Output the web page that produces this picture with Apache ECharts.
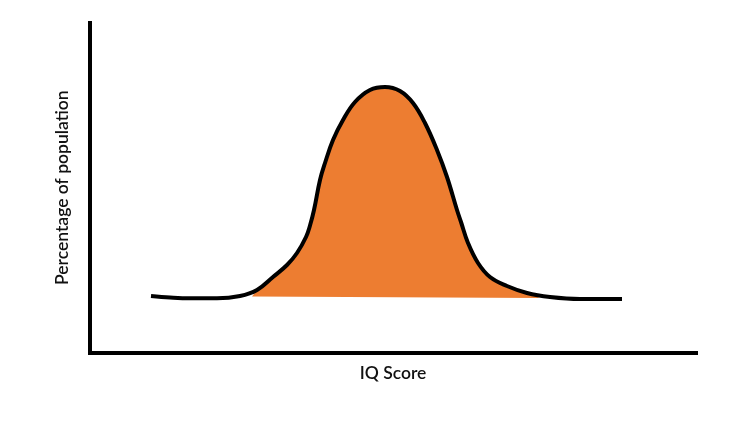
<!DOCTYPE html>
<html>
<head>
<meta charset="utf-8">
<style>html,body{margin:0;padding:0;background:#fff}#c{width:755px;height:425px}</style>
<script src="https://cdn.jsdelivr.net/npm/echarts@6/dist/echarts.min.js"></script>
</head>
<body>
<div id="c"></div>
<script>
const xAxisName = 'IQ Score';
const yAxisName = 'Percentage of population';
const curveX = [61,80,100,127,150,167,183,197,207,216,220,224,230,235,243,253,265,280,295,310,323,335,347,357,367,371,378,388,400,417,437,460,490,532];
const curveY = [56.5,55,54.2,54.2,56.5,62.5,75.5,87.5,99.5,115.5,127,142.5,172.5,189.5,212.5,232.5,250.5,262.5,265.5,261.5,249.5,229.5,202.5,175.5,142.5,130.5,109.5,89.5,75.5,66.5,59.5,55.5,53.5,53.5];
const fillX = curveX.slice(5, 31);
const fillY = curveY.slice(5, 31);
const baseX = [450,162];
const baseY = [54.5,56];

const chart = echarts.init(document.getElementById('c'), null, {renderer:'canvas'});
const pts = curveX.map((x,i)=>[x,curveY[i]]);
const poly = fillX.map((x,i)=>[x,fillY[i]]).concat(baseX.map((x,i)=>[x,baseY[i]]));
const axisLine = {show:true,onZero:false,lineStyle:{color:'#000',width:4,cap:'square'}};
const textStyle = {fontFamily:'Lato',fontSize:17.5,fontWeight:600,color:'#111'};
chart.setOption({
  animation:false,
  backgroundColor:'#fff',
  grid:{left:90,right:59,top:23,bottom:72.5,containLabel:false},
  xAxis:{type:'value',min:0,max:606,axisLine,axisTick:{show:false},axisLabel:{show:false},splitLine:{show:false},
    name:xAxisName,nameLocation:'middle',nameGap:12,nameTextStyle:textStyle},
  yAxis:{type:'value',min:0,max:329.5,axisLine,axisTick:{show:false},axisLabel:{show:false},splitLine:{show:false},
    name:yAxisName,nameLocation:'middle',nameGap:19,nameTextStyle:textStyle},
  series:[
    {type:'custom',coordinateSystem:'cartesian2d',data:[[0,0]],silent:true,z:1,
     renderItem:(p,api)=>({type:'polygon',shape:{points:poly.map(q=>api.coord(q))},style:{fill:'#ED7D31'}})},
    {type:'line',data:pts,showSymbol:false,smooth:0.4,z:2,silent:true,lineStyle:{color:'#000',width:4,cap:'butt'}}
  ]
});
</script>
</body>
</html>
